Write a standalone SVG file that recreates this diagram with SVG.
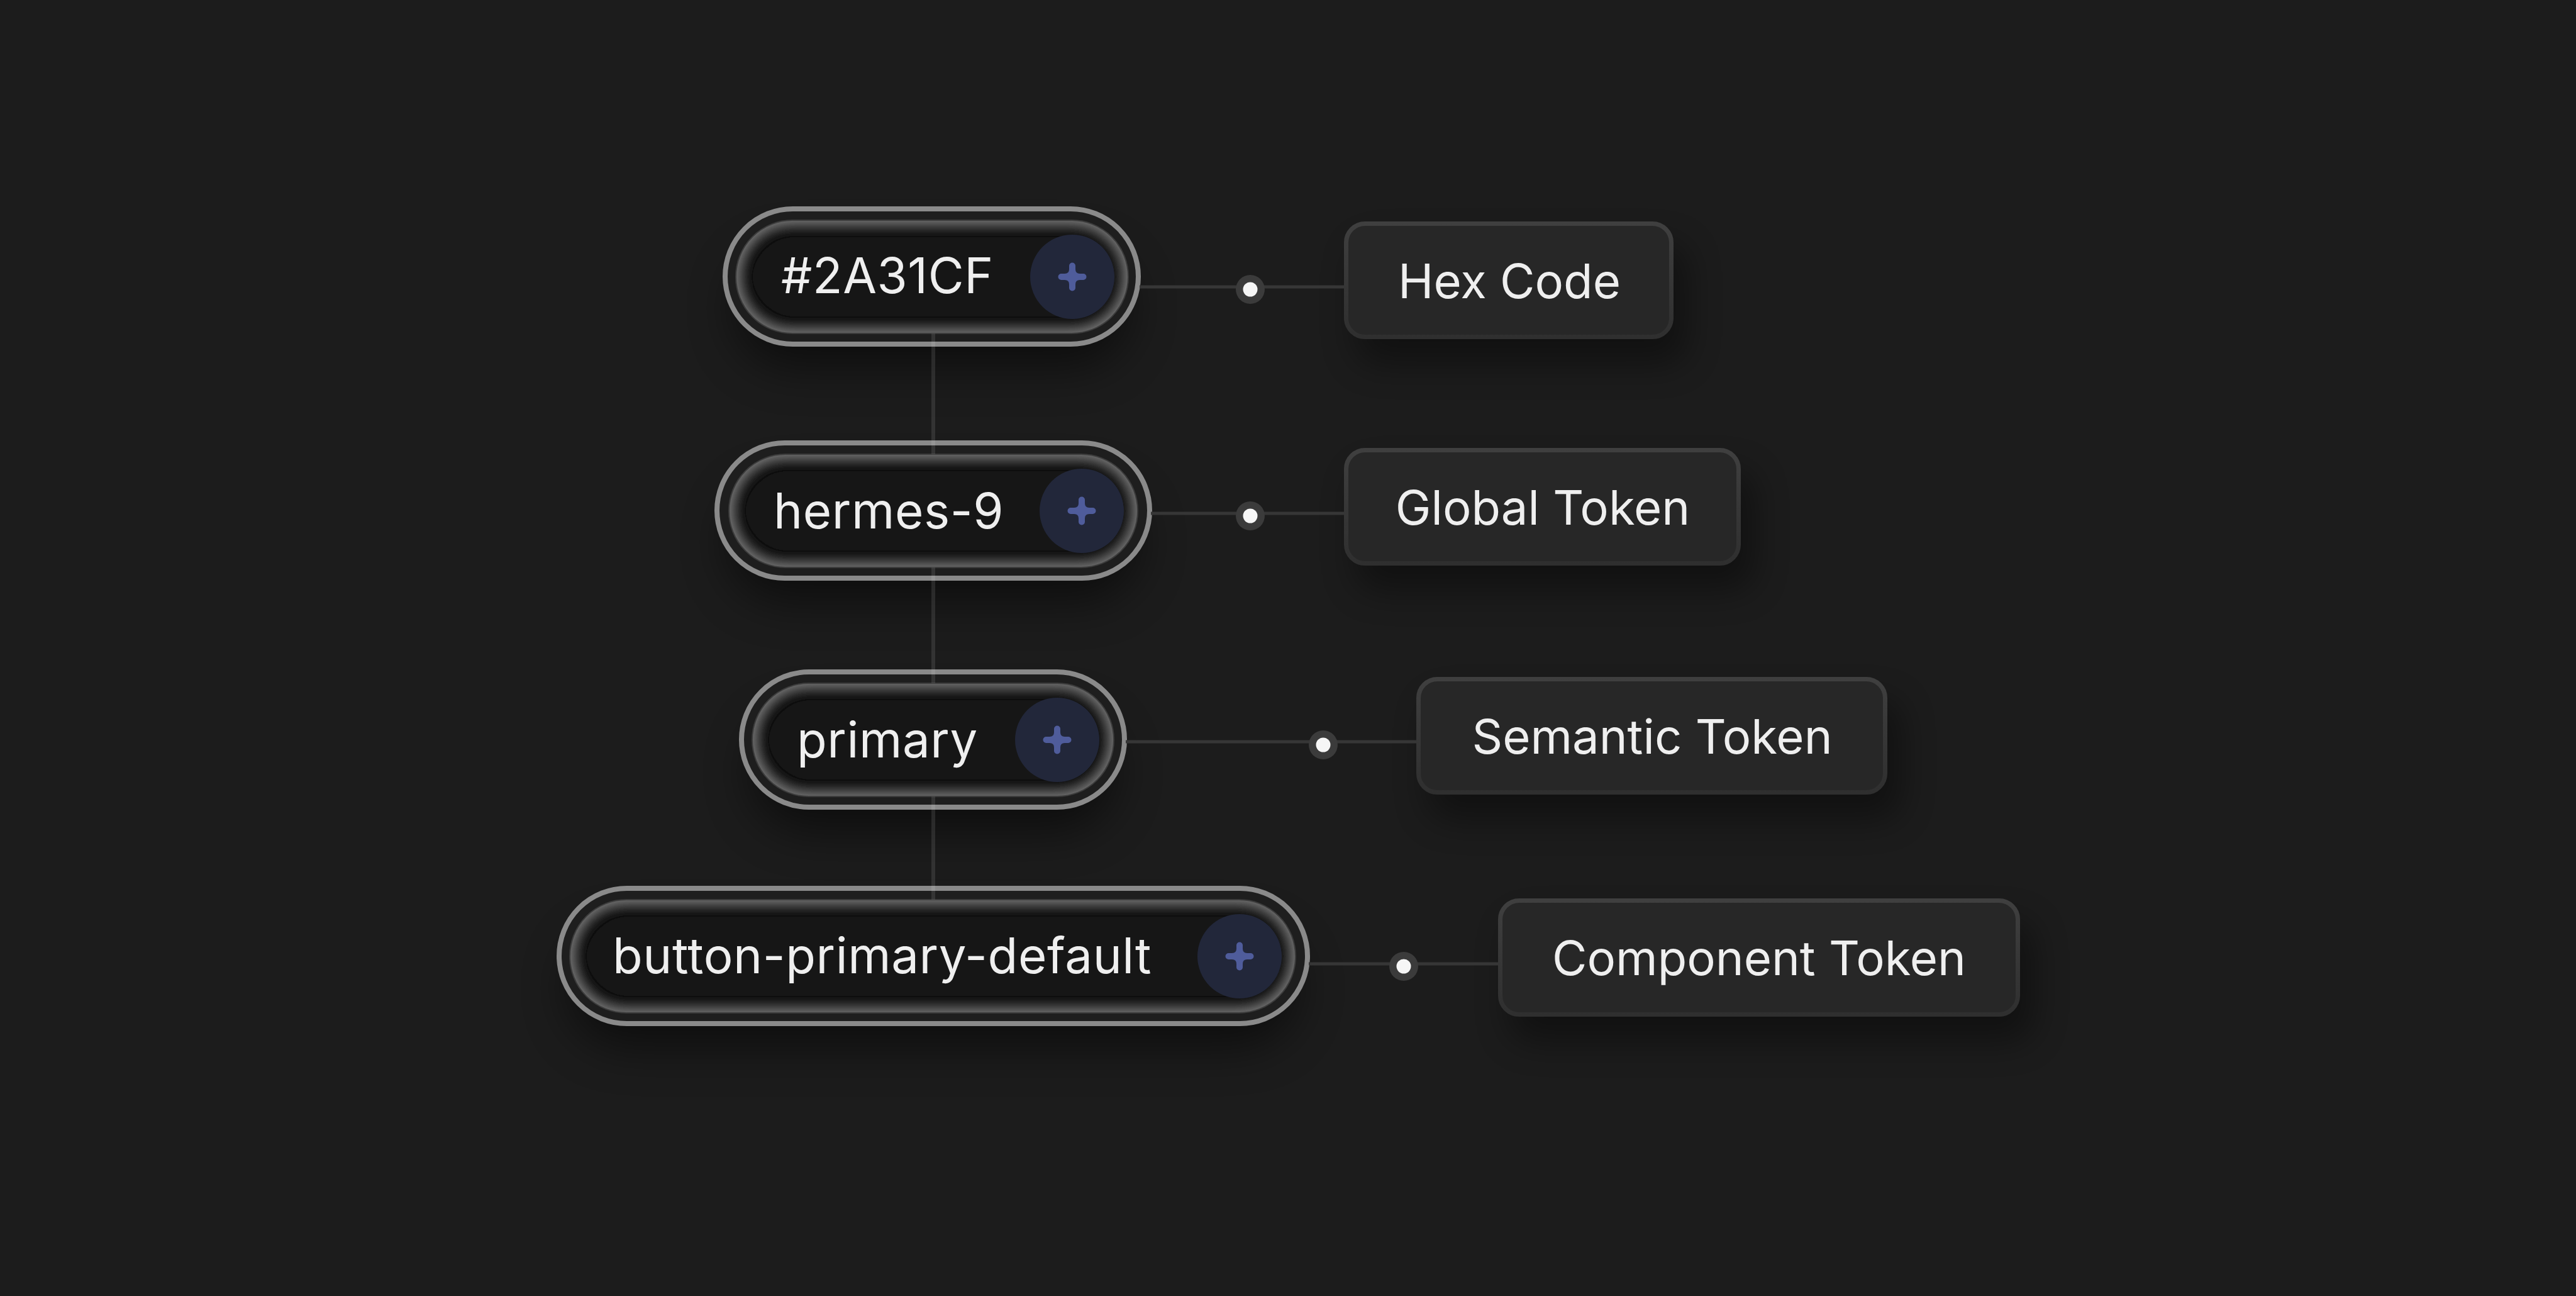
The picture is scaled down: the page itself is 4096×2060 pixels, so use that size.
<svg xmlns="http://www.w3.org/2000/svg" width="4096" height="2060" viewBox="0 0 4096 2060">
  <defs>
    <style>
      .ring { fill: #1e1e1e; stroke: #8a8a8a; stroke-width: 8; }
      .inner { fill: #151515; filter: url(#inset); }
      .innerline { fill: none; stroke: #3c3c3c; stroke-width: 2; }
      .btn { fill: #22273a; }
      .plus { fill: #4f5c9b; }
      .ntext { font-family: Inter, "Liberation Sans", sans-serif; font-size: 78px; letter-spacing: 0.6px; fill: #efefef; }
      .box { fill: #272727; stroke: url(#boxStroke); stroke-width: 7; }
      .ltext { font-family: Inter, "Liberation Sans", sans-serif; font-size: 76px; fill: #efefef; text-anchor: middle; }
      .hline { stroke: #363636; stroke-width: 5; fill: none; }
      .vline { stroke: #ffffff; stroke-opacity: 0.1; stroke-width: 6; fill: none; }
      .dotring { fill: #3b3b3b; }
      .dot { fill: #f6f6f6; }
      .pshadow { fill: #000; opacity: 0.55; filter: url(#blurBig); }
      .lshadow { fill: #000; opacity: 0.4; filter: url(#blurMid); }
    </style>
    <linearGradient id="boxStroke" x1="0" y1="0" x2="0" y2="1">
      <stop offset="0" stop-color="#3f3f3f"/>
      <stop offset="1" stop-color="#2f2f2f"/>
    </linearGradient>
    <filter id="blurBig" x="-30%" y="-80%" width="160%" height="260%">
      <feGaussianBlur stdDeviation="38"/>
    </filter>
    <filter id="blurMid" x="-30%" y="-80%" width="160%" height="260%">
      <feGaussianBlur stdDeviation="28"/>
    </filter>
    <filter id="inset" x="-5%" y="-10%" width="110%" height="120%">
      <feGaussianBlur in="SourceAlpha" stdDeviation="11" result="b"/>
      <feComposite in="SourceAlpha" in2="b" operator="arithmetic" k2="1" k3="-1" result="edge"/>
      <feFlood flood-color="#8a8a8a"/>
      <feComposite in2="edge" operator="in" result="glow"/>
      <feMerge>
        <feMergeNode in="SourceGraphic"/>
        <feMergeNode in="glow"/>
      </feMerge>
    </filter>
    <path id="plusShape" d="M-5,-17.5 a5,5 0 0 1 10,0 L5,-12 Q5,-5 12,-5 L17.5,-5 a5,5 0 0 1 0,10 L12,5 Q5,5 5,12 L5,17.5 a5,5 0 0 1 -10,0 L-5,12 Q-5,5 -12,5 L-17.5,5 a5,5 0 0 1 0,-10 L-12,-5 Q-5,-5 -5,-12 Z"/>
  </defs>

  <rect x="0" y="0" width="4096" height="2060" fill="#1c1c1c"/>

  <g id="shadows">
    <rect class="pshadow" x="1170" y="400" width="624" height="180" rx="90"/>
    <rect class="pshadow" x="1159" y="772" width="650" height="180" rx="90"/>
    <rect class="pshadow" x="1196" y="1137" width="575" height="180" rx="90"/>
    <rect class="pshadow" x="906" y="1480" width="1154" height="180" rx="90"/>
    <rect class="lshadow" x="2157" y="390" width="524" height="187" rx="32"/>
    <rect class="lshadow" x="2157" y="750" width="631" height="187" rx="32"/>
    <rect class="lshadow" x="2272" y="1114" width="749" height="187" rx="32"/>
    <rect class="lshadow" x="2402" y="1466" width="830" height="188" rx="32"/>
  </g>

  <g id="node-hex">
    <rect class="ring" x="1153" y="332" width="657" height="215" rx="107.5"/>
    <rect class="inner" x="1170" y="350" width="624" height="180" rx="90"/>
    <rect class="innerline" x="1170" y="350" width="624" height="180" rx="90"/>
    <circle class="btn" cx="1705" cy="440" r="67"/>
    <use href="#plusShape" class="plus" transform="translate(1705,440)"/>
    <text class="ntext" x="1242" y="466">#2A31CF</text>
  </g>

  <g id="node-global">
    <rect class="ring" x="1140" y="704" width="688" height="215" rx="107.5"/>
    <rect class="inner" x="1159" y="722" width="650" height="180" rx="90"/>
    <rect class="innerline" x="1159" y="722" width="650" height="180" rx="90"/>
    <circle class="btn" cx="1720" cy="812" r="67"/>
    <use href="#plusShape" class="plus" transform="translate(1720,812)"/>
    <text class="ntext" x="1230" y="840">hermes-9</text>
  </g>

  <g id="node-semantic">
    <rect class="ring" x="1179" y="1068" width="609" height="215" rx="107.5"/>
    <rect class="inner" x="1196" y="1086" width="575" height="180" rx="90"/>
    <rect class="innerline" x="1196" y="1086" width="575" height="180" rx="90"/>
    <circle class="btn" cx="1681" cy="1176" r="67"/>
    <use href="#plusShape" class="plus" transform="translate(1681,1176)"/>
    <text class="ntext" x="1267" y="1204">primary</text>
  </g>

  <g id="node-component">
    <rect class="ring" x="889" y="1412" width="1190" height="215" rx="107.5"/>
    <rect class="inner" x="906" y="1430" width="1154" height="180" rx="90"/>
    <rect class="innerline" x="906" y="1430" width="1154" height="180" rx="90"/>
    <circle class="btn" cx="1971" cy="1520" r="67"/>
    <use href="#plusShape" class="plus" transform="translate(1971,1520)"/>
    <text class="ntext" x="974" y="1547">button-primary-default</text>
  </g>

  <g id="connectors">
    <line class="vline" x1="1484" y1="530" x2="1484" y2="722"/>
    <line class="vline" x1="1484" y1="902" x2="1484" y2="1086"/>
    <line class="vline" x1="1484" y1="1266" x2="1484" y2="1430"/>
    <line class="hline" x1="1812" y1="456" x2="2140" y2="456"/>
    <line class="hline" x1="1830" y1="816" x2="2140" y2="816"/>
    <line class="hline" x1="1790" y1="1179" x2="2255" y2="1179"/>
    <line class="hline" x1="2081" y1="1532" x2="2385" y2="1532"/>
    <circle class="dotring" cx="1988" cy="460" r="23"/>
    <circle class="dot" cx="1988" cy="460" r="11.5"/>
    <circle class="dotring" cx="1988" cy="820" r="23"/>
    <circle class="dot" cx="1988" cy="820" r="11.5"/>
    <circle class="dotring" cx="2104" cy="1184" r="23"/>
    <circle class="dot" cx="2104" cy="1184" r="11.5"/>
    <circle class="dotring" cx="2232" cy="1536" r="23"/>
    <circle class="dot" cx="2232" cy="1536" r="11.5"/>
  </g>

  <g id="label-hex">
    <rect class="box" x="2140.5" y="355.5" width="517" height="180" rx="30"/>
    <text class="ltext" x="2400" y="474">Hex Code</text>
  </g>
  <g id="label-global">
    <rect class="box" x="2140.5" y="715.5" width="624" height="180" rx="30"/>
    <text class="ltext" x="2453" y="834">Global Token</text>
  </g>
  <g id="label-semantic">
    <rect class="box" x="2255.5" y="1079.5" width="742" height="180" rx="30"/>
    <text class="ltext" x="2627" y="1198">Semantic Token</text>
  </g>
  <g id="label-component">
    <rect class="box" x="2385.5" y="1431.5" width="823" height="181" rx="30"/>
    <text class="ltext" x="2797" y="1550">Component Token</text>
  </g>
</svg>
